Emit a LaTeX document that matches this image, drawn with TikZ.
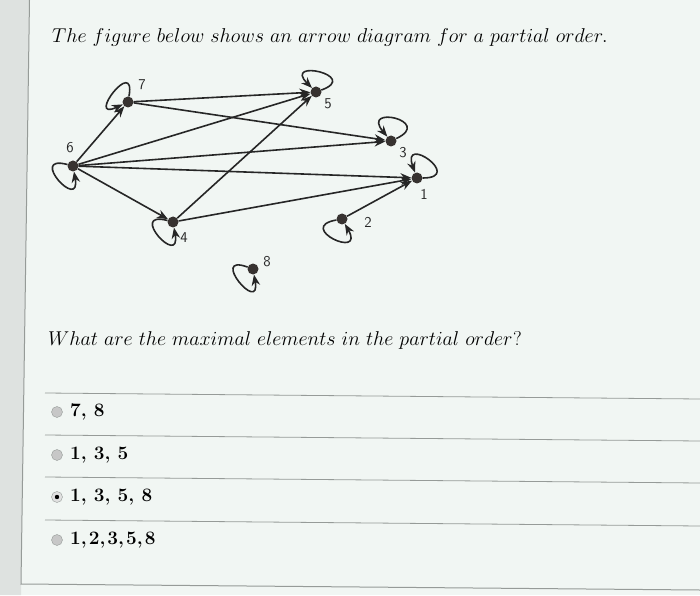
\RequirePackage{fix-cm}
\documentclass[tikz,border=0pt]{standalone}
\usetikzlibrary{arrows.meta,positioning}
\definecolor{paper}{RGB}{241,246,243}
\definecolor{margin}{RGB}{222,226,224}
\definecolor{dotgray}{RGB}{55,50,48}
\definecolor{rule}{RGB}{150,155,152}

\begin{document}
\begin{tikzpicture}[x=1pt,y=1pt,on grid,
vertex/.style={
circle,
fill=dotgray,
inner sep=0pt,
minimum size=11pt
},
tag/.style={
font=\sffamily\fontsize{15}{15}\selectfont,
text=black!85,
inner sep=0pt
},
rel/.style={
draw=black!85,
line width=1.6pt,
-{Stealth[length=11pt,width=8.5pt]}
},
self/.style={
rel,
min distance=42pt
},
radio/.style={
circle,
draw=rule,
fill=black!22,
inner sep=0pt,
minimum size=11pt
},
choice/.style={
anchor=west,
inner sep=0pt,
font=\fontsize{19}{19}\selectfont\bfseries
},
prompt/.style={
anchor=base west,
inner sep=0pt,
font=\fontsize{20}{24}\selectfont
}]
\useasboundingbox (0,0) rectangle (700,595);
\fill[paper] (0,0) rectangle (700,595);
\fill[margin] (0,0) -- (21,0) -- (21,11) -- (29.5,595) -- (0,595) -- cycle;
\draw[rule,line width=1pt] (29.5,595) -- (21,11) -- (700,5);

% question text
\node (title) [prompt] at (52,552)
  {$The\ figure\ below\ shows\ an\ arrow\ diagram\ for\ a\ partial\ order.$};
\node (question) [prompt] at (48,250)
  {$What\ are\ the\ maximal\ elements\ in\ the\ partial\ order?$};

% the elements
\node (n7) [vertex] at (128,493) {};
\node (n5) [vertex] at (316,503) {};
\node (n3) [vertex] at (391,454) {};
\node (n6) [vertex] at (73,429) {};
\node (n1) [vertex] at (417,417) {};
\node (n4) [vertex] at (173,373) {};
\node (n2) [vertex] at (342,376) {};
\node (n8) [vertex] at (253,326) {};

\node (t7) [tag,above right=17pt and 14pt of n7] {7};
\node (t5) [tag,below right=12pt and 12pt of n5] {5};
\node (t3) [tag,below right=12pt and 12pt of n3] {3};
\node (t6) [tag,above left=18pt and 3pt of n6] {6};
\node (t1) [tag,below right=16pt and 7pt of n1] {1};
\node (t4) [tag,below right=16pt and 11pt of n4] {4};
\node (t2) [tag,below right=3pt and 26pt of n2] {2};
\node (t8) [tag,above right=7pt and 14pt of n8] {8};

% relation arrows
\draw[rel] (n7) -- (n5);
\draw[rel] (n7) -- (n3);
\draw[rel] (n6) -- (n7);
\draw[rel] (n6) -- (n5);
\draw[rel] (n6) -- (n3);
\draw[rel] (n6) -- (n1);
\draw[rel] (n6) -- (n4);
\draw[rel] (n4) -- (n5);
\draw[rel] (n4) -- (n1);
\draw[rel] (n2) -- (n1);

% loops
\draw[self] (n7) to[out=80,in=205] (n7);
\draw[self] (n5) to[out=20,in=135] (n5);
\draw[self] (n3) to[out=25,in=130] (n3);
\draw[self] (n1) to[out=0,in=110] (n1);
\draw[self] (n6) to[out=165,in=280] (n6);
\draw[self] (n4) to[out=165,in=280] (n4);
\draw[self] (n2) to[out=190,in=300] (n2);
\draw[self] (n8) to[out=160,in=280] (n8);

% answers
\draw[rule,line width=0.8pt] (45,202) -- (700,196);
\draw[rule,line width=0.8pt] (45,160) -- (700,154);
\draw[rule,line width=0.8pt] (45,118) -- (700,112);
\draw[rule,line width=0.8pt] (45,75) -- (700,69);

\node (r1) [radio] at (57,183) {};
\node (r2) [radio] at (57,140) {};
\node (r3) [radio,fill=black!12] at (57,98) {};
\node (r4) [radio] at (57,55) {};
\fill[black] (r3) circle (2.2pt);

\node (a1) [choice] at (70,183) {7,\ 8};
\node (a2) [choice] at (70,140) {1,\ 3,\ 5};
\node (a3) [choice] at (70,98) {1,\ 3,\ 5,\ 8};
\node (a4) [choice] at (70,55) {1,\kern2pt2,\kern2pt3,\kern2pt5,\kern2pt8};
\end{tikzpicture}
\end{document}
